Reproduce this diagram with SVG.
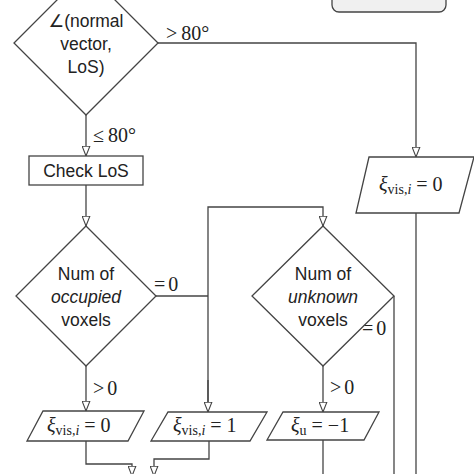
<svg xmlns="http://www.w3.org/2000/svg" width="474" height="474" viewBox="0 0 474 474">
<defs>
<marker id="arr" viewBox="0 0 11 9" refX="10.5" refY="4.5" markerWidth="11" markerHeight="9" markerUnits="userSpaceOnUse" orient="auto">
<path d="M0.6,0.6 L10.5,4.5 L0.6,8.4 z" fill="#fff" stroke="#444" stroke-width="1.1"/>
</marker>
<style>
.s{fill:#fff;stroke:#444;stroke-width:1.3}
.c{fill:none;stroke:#444;stroke-width:1.3}
.t{font-family:"Liberation Sans","DejaVu Sans",sans-serif;font-size:17.5px;fill:#222;text-anchor:middle}
.m{font-family:"Liberation Serif","DejaVu Serif",serif;font-size:20px;fill:#222}
.sub{font-size:14px}
</style>
</defs>
<rect width="474" height="474" fill="#fff"/>
<g id="start">
<rect x="332" y="-20" width="114" height="32" rx="7" ry="7" fill="#f0f0f0" stroke="#444" stroke-width="1.3"/>
</g>
<g id="connectors">
<path class="c" d="M158,43 H416 V157" marker-end="url(#arr)"/>
<path class="c" d="M86,115 V156" marker-end="url(#arr)"/>
<path class="c" d="M86,185 V226" marker-end="url(#arr)"/>
<path class="c" d="M156,296 H208"/>
<path class="c" d="M208,405 V207 H323 V226" marker-end="url(#arr)"/>
<path class="c" d="M208,380 V412" marker-end="url(#arr)"/>
<path class="c" d="M394,296 V480"/>
<path class="c" d="M416,213 V480"/>
<path class="c" d="M86,366 V411" marker-end="url(#arr)"/>
<path class="c" d="M323,366 V412" marker-end="url(#arr)"/>
<path class="c" d="M323,440 V480"/>
<path class="c" d="M86,441 V464 H132 V476" marker-end="url(#arr)"/>
<path class="c" d="M209,441 V459 H154 V476" marker-end="url(#arr)"/>
</g>
<g id="labels">
<text class="m" x="166" y="40">&gt;<tspan dx="4">80°</tspan></text>
<text class="m" x="93" y="142">≤<tspan dx="4">80°</tspan></text>
<text class="m" x="154" y="291">=<tspan dx="3">0</tspan></text>
<text class="m" x="93" y="395">&gt;<tspan dx="3">0</tspan></text>
<text class="m" x="330" y="394">&gt;<tspan dx="3">0</tspan></text>
<text class="m" x="362" y="335">=<tspan dx="3">0</tspan></text>
</g>
<g id="angle_decision">
<polygon class="s" points="86,-29 158,43 86,115 14,43"/>
<text class="t" x="86" y="27">∠(normal</text>
<text class="t" x="86" y="50">vector,</text>
<text class="t" x="86" y="73">LoS)</text>
</g>
<g id="check_los">
<rect class="s" x="29" y="156" width="114" height="29"/>
<text class="t" x="86" y="177">Check LoS</text>
</g>
<g id="occupied_decision">
<polygon class="s" points="86,226 156,296 86,366 16,296"/>
<text class="t" x="86" y="280">Num of</text>
<text class="t" x="86" y="303" font-style="italic">occupied</text>
<text class="t" x="86" y="326">voxels</text>
</g>
<g id="unknown_decision">
<polygon class="s" points="323,226 394,296 323,366 252,296"/>
<text class="t" x="323" y="280">Num of</text>
<text class="t" x="323" y="303" font-style="italic">unknown</text>
<text class="t" x="323" y="326">voxels</text>
</g>
<g id="vis0_right">
<polygon class="s" points="369,157 474,157 459,213 356,213"/>
<text class="m" x="379" y="191"><tspan font-style="italic">ξ</tspan><tspan class="sub" dy="3">vis,</tspan><tspan class="sub" font-style="italic">i</tspan><tspan dy="-3" dx="5">=</tspan><tspan dx="5">0</tspan></text>
</g>
<g id="vis0_left">
<polygon class="s" points="43,411 144,411 128,441 27,441"/>
<text class="m" x="47" y="432"><tspan font-style="italic">ξ</tspan><tspan class="sub" dy="3">vis,</tspan><tspan class="sub" font-style="italic">i</tspan><tspan dy="-3" dx="5">=</tspan><tspan dx="5">0</tspan></text>
</g>
<g id="vis1">
<polygon class="s" points="168,412 267,412 250,441 151,441"/>
<text class="m" x="173" y="432"><tspan font-style="italic">ξ</tspan><tspan class="sub" dy="3">vis,</tspan><tspan class="sub" font-style="italic">i</tspan><tspan dy="-3" dx="5">=</tspan><tspan dx="5">1</tspan></text>
</g>
<g id="xi_u">
<polygon class="s" points="283,412 379,412 364,440 267,440"/>
<text class="m" x="291" y="432"><tspan font-style="italic">ξ</tspan><tspan class="sub" dy="3">u</tspan><tspan dy="-3" dx="5">=</tspan><tspan dx="5">−1</tspan></text>
</g>
</svg>
